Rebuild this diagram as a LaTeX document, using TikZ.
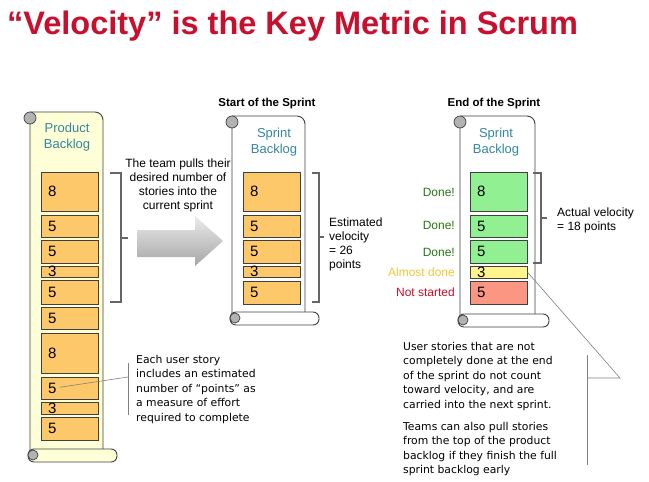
\documentclass[tikz,border=0pt]{standalone}
\usepackage{fontspec}
\setmainfont{Liberation Sans}
\newfontfamily\verd{DejaVu Sans}
\definecolor{titlered}{RGB}{200,16,46}
\definecolor{teal}{RGB}{50,135,160}
\definecolor{storyor}{RGB}{252,200,105}
\definecolor{storygr}{RGB}{145,240,145}
\definecolor{storyye}{RGB}{255,245,140}
\definecolor{storyrd}{RGB}{250,150,130}
\definecolor{paperye}{RGB}{255,255,215}
\definecolor{donegr}{RGB}{40,120,20}
\definecolor{almostye}{RGB}{240,200,60}
\tikzset{
 paper/.style={draw=black!75, line width=0.9pt},
 curl/.style={draw=black!75, fill=black!30, line width=0.7pt},
 storybox/.style={draw=black!75, line width=0.6pt, inner sep=0pt},
 num/.style={font=\fontsize{15}{15}\selectfont, anchor=west, inner sep=0pt},
 lbl/.style={font=\fontsize{12}{14}\selectfont, inner sep=0pt},
 brk/.style={draw=black!60, line width=1.3pt},
 call/.style={draw=black!50, line width=0.6pt},
 ver/.style={font=\verd\fontsize{10.8}{14.5}\selectfont, anchor=north west, align=left, inner sep=0pt},
}
\newcommand{\storyrect}[6]{%
 \node[storybox, fill=#6, minimum width=57pt, minimum height=#4pt-#3pt, anchor=north west] (#1) at (#2,#3) {};
 \node[num] (#1n) at ([xshift=7pt]#1.west) {#5};}
\newcommand{\scroll}[6]{%
 \draw[paper, fill=#6] (#2,#4+6) -- (#2,#5) -- (#3,#5) -- (#3,#4+8) arc (0:90:8pt) -- (#2,#4) ;
 \draw[paper, fill=#6, rounded corners=6pt] (#2-2,#5-6) rectangle (#3+14,#5+7);
 \draw[curl] (#2,#4+6) circle (6pt);
 \draw[curl] (#2+3,#5) circle (5pt);
 \coordinate (#1) at (#2,#4);}
\begin{document}
\begin{tikzpicture}[x=1pt,y=-1pt]
\useasboundingbox (0,0) rectangle (649,482);
\fill[white] (0,0) rectangle (649,482);
\node[font=\bfseries\fontsize{32.5}{34}\selectfont, text=titlered, anchor=west, inner sep=0pt] (title) at (7,26) {“Velocity” is the Key Metric in Scrum};

% product backlog
\scroll{pb}{30}{103}{112}{455}{paperye}
\node[lbl, font=\fontsize{13}{16}\selectfont, text=teal, align=center] (pbl) at (67,137) {Product\\Backlog};
\storyrect{p1}{41}{172}{211}{8}{storyor}
\storyrect{p2}{41}{215}{237}{5}{storyor}
\storyrect{p3}{41}{240}{263}{5}{storyor}
\storyrect{p4}{41}{266}{277}{3}{storyor}
\storyrect{p5}{41}{280}{304}{5}{storyor}
\storyrect{p6}{41}{307}{329}{5}{storyor}
\storyrect{p7}{41}{333}{373}{8}{storyor}
\storyrect{p8}{41}{377}{399}{5}{storyor}
\storyrect{p9}{41}{402}{414}{3}{storyor}
\storyrect{p10}{41}{417}{440}{5}{storyor}
\draw[brk] (110,173) -- (121,173) -- (121,302) -- (110,302);
\draw[brk] (121,238) -- (128,238);

% arrow
\shade[top color=black!8, bottom color=black!35] (137,230) -- (195,230) -- (195,216) -- (223,241) -- (195,266) -- (195,257) -- (137,257) -- cycle;
\node[lbl, align=center] (pull) at (178,185) {The team pulls their\\desired number of\\stories into the\\current sprint};

% start of sprint
\node[lbl, font=\bfseries\fontsize{11.5}{13}\selectfont] (sos) at (267,104) {Start of the Sprint};
\scroll{sb}{232}{305}{116}{318}{white}
\node[lbl, font=\fontsize{13}{16}\selectfont, text=teal, align=center] (sbl) at (274,142) {Sprint\\Backlog};
\storyrect{s1}{243}{172}{211}{8}{storyor}
\storyrect{s2}{243}{215}{237}{5}{storyor}
\storyrect{s3}{243}{240}{263}{5}{storyor}
\storyrect{s4}{243}{266}{277}{3}{storyor}
\storyrect{s5}{243}{281}{304}{5}{storyor}
\draw[brk] (312,173) -- (319,173) -- (319,302) -- (312,302);
\draw[brk] (319,237) -- (324,237);
\node[lbl, anchor=west, align=left] (est) at (329,244) {Estimated\\velocity\\= 26\\points};

% end of sprint
\node[lbl, font=\bfseries\fontsize{11.5}{13}\selectfont] (eos) at (494,104) {End of the Sprint};
\scroll{eb}{460}{535}{116}{320}{white}
\node[lbl, font=\fontsize{13}{16}\selectfont, text=teal, align=center] (ebl) at (496,142) {Sprint\\Backlog};
\storyrect{e1}{470}{172}{211}{8}{storygr}
\storyrect{e2}{470}{215}{237}{5}{storygr}
\storyrect{e3}{470}{240}{263}{5}{storygr}
\storyrect{e4}{470}{266}{278}{3}{storyye}
\storyrect{e5}{470}{281}{304}{5}{storyrd}
\node[lbl, anchor=east, text=donegr] (d1) at (455,192) {Done!};
\node[lbl, anchor=east, text=donegr] (d2) at (455,225) {Done!};
\node[lbl, anchor=east, text=donegr] (d3) at (455,252) {Done!};
\node[lbl, anchor=east, text=almostye] (d4) at (455,272) {Almost done};
\node[lbl, anchor=east, text=titlered] (d5) at (455,292) {Not started};
\draw[brk] (533,173) -- (541,173) -- (541,263) -- (533,263);
\draw[brk] (541,218) -- (547,218);
\node[lbl, anchor=west, align=left] (act) at (557,220) {Actual velocity\\= 18 points};

% callouts
\coordinate (c1) at (128,377);
\draw[call] (p8n.east) ++(3,-1) -- (c1);
\draw[call] (128,363) -- (128,415);
\node[ver] (each) at (136,355) {Each user story\\includes an estimated\\number of “points” as\\a measure of effort\\required to complete};
\coordinate (c2) at (620,378);
\draw[call] (e4.east) -- (c2) -- (587,378);
\draw[call] (587,355) -- (587,465);
\node[ver] (us) at (403,342) {User stories that are not\\completely done at the end\\of the sprint do not count\\toward velocity, and are\\carried into the next sprint.};
\node[ver] (teams) at (403,422) {Teams can also pull stories\\from the top of the product\\backlog if they finish the full\\sprint backlog early};
\end{tikzpicture}
\end{document}
